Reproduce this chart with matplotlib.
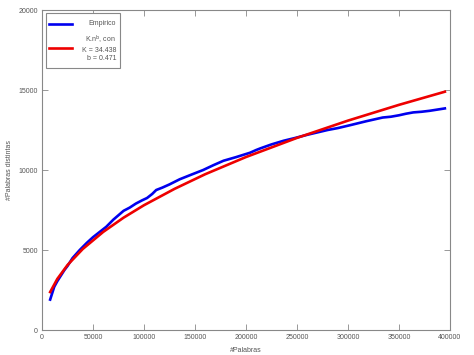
import matplotlib
matplotlib.use('Agg')
import matplotlib.pyplot as plt
import matplotlib.ticker as ticker
from matplotlib.patches import Rectangle
from matplotlib.lines import Line2D

emp_n = [8000, 10000, 12000, 15000, 18000, 22000, 25000, 30000, 37000, 44000,
         50000, 57000, 63000, 70000, 80000, 86000, 92000, 98000, 103000,
         108000, 112000, 118000, 125000, 135000, 146000, 158000, 168000,
         178000, 190000, 204000, 210000, 214000, 225000, 237000, 248000,
         260000, 270000, 280000, 290000, 302000, 318000, 334000, 342000,
         350000, 357000, 364000, 372000, 380000, 388000, 395000]
emp_v = [1900, 2300, 2700, 3050, 3350, 3750, 4000, 4500, 5000, 5450,
         5800, 6150, 6450, 6900, 7450, 7650, 7900, 8100, 8250,
         8500, 8750, 8900, 9100, 9420, 9700, 10000, 10300,
         10580, 10800, 11080, 11250, 11350, 11600, 11830, 12000,
         12200, 12350, 12500, 12620, 12800, 13050, 13280, 13330,
         13420, 13520, 13600, 13640, 13700, 13780, 13850]

# fitted Heaps curve K.n^b, K = 34.438, b = 0.471
fit_n = [8000, 15000, 25000, 40000, 60000, 80000, 100000, 130000, 160000,
         200000, 250000, 300000, 350000, 395000]
fit_v = [2373, 3192, 4060, 5066, 6130, 7022, 7800, 8823, 9736,
         10811, 12008, 13087, 14072, 14894]

plt.rcParams['font.family'] = ['Liberation Sans', 'DejaVu Sans']
grey = '#555555'
blue = '#0000ee'
red = '#ee0000'
fs = 5

fig = plt.figure(figsize=(4.74, 3.55), dpi=100)
ax = fig.add_axes([0.0886, 0.0704, 0.8607, 0.9014])

ax.plot(emp_n, emp_v, color=blue, lw=1.9)
ax.plot(fit_n, fit_v, color=red, lw=1.9)

ax.set_xlim(0, 400000)
ax.set_ylim(0, 20000)
ax.xaxis.set_major_locator(ticker.MultipleLocator(50000))
ax.yaxis.set_major_locator(ticker.MultipleLocator(5000))
ax.tick_params(direction='in', top=True, right=True, length=4, width=0.6,
               color='#888888', labelsize=fs, labelcolor=grey, pad=3)
for s in ax.spines.values():
    s.set_color('#888888')
    s.set_linewidth(0.8)

ax.set_xlabel('#Palabras', fontsize=fs, color=grey, labelpad=4)
ax.set_ylabel('#Palabras distintas', fontsize=fs, color=grey, labelpad=3.5)

# legend box, drawn by hand so the texts sit right-aligned like the original
ax.add_patch(Rectangle((0.0098, 0.8188), 0.1814, 0.1718, transform=ax.transAxes,
                       facecolor='white', edgecolor='#888888', lw=0.8, zorder=5))
ax.add_line(Line2D([0.018, 0.073], [0.9553, 0.9553], transform=ax.transAxes,
                   color=blue, lw=1.9, zorder=6))
ax.add_line(Line2D([0.018, 0.073], [0.8803, 0.8803], transform=ax.transAxes,
                   color=red, lw=1.9, zorder=6))
ax.text(0.1814, 0.9563, 'Empirico', transform=ax.transAxes, ha='right',
        va='center', fontsize=fs, color=grey, zorder=6)
ax.text(0.1814, 0.8822, 'K.n$^{\\rm b}$, con\nK = 34.438\nb = 0.471',
        transform=ax.transAxes, ha='right', va='center', ma='right',
        fontsize=fs, color=grey, linespacing=1.15, zorder=6)

fig.savefig('out.png', dpi=100)
